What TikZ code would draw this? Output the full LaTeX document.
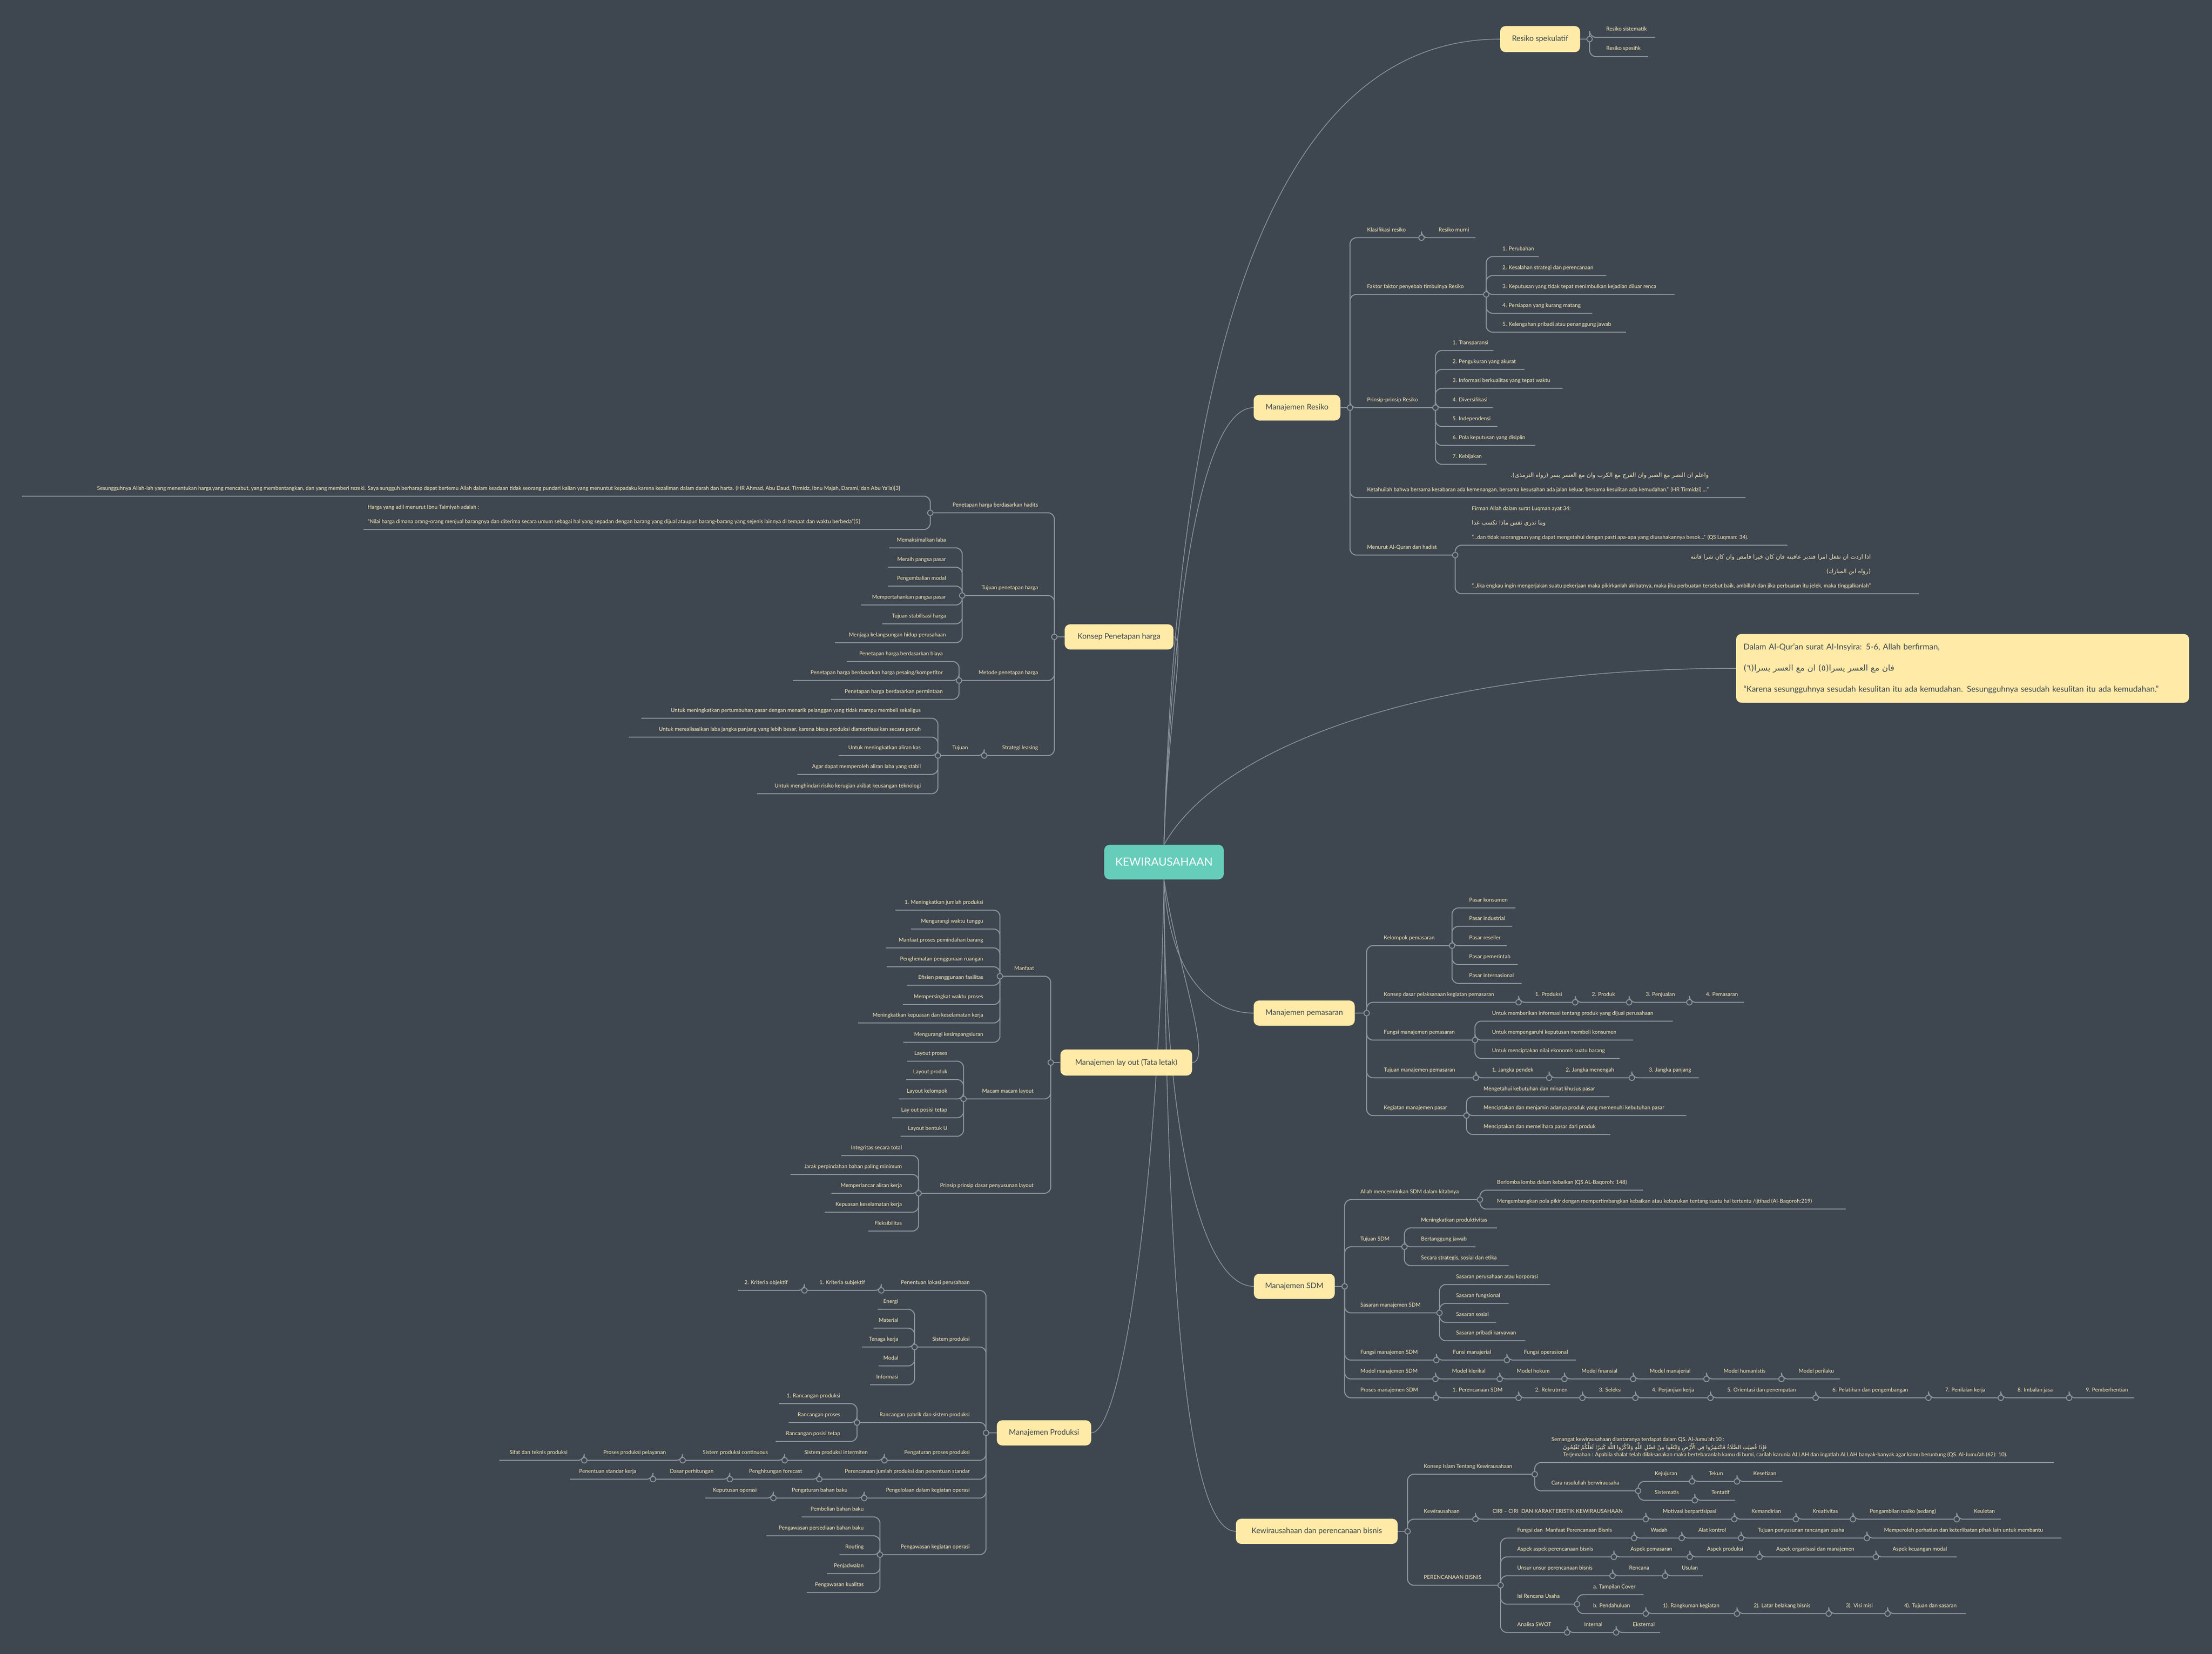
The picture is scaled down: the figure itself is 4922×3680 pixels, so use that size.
\documentclass[tikz,border=0pt]{standalone}
\usepackage{fontspec}
\setmainfont{Lato}
\newfontfamily\ar[Script=Arabic]{DejaVu Sans}
\TeXXeTstate=1
\pgfdeclarelayer{back}\pgfdeclarelayer{bg}\pgfsetlayers{back,bg,main}
\definecolor{bgc}{HTML}{3E4650}
\definecolor{ln}{HTML}{8B939B}
\definecolor{lab}{HTML}{F8EAB6}
\definecolor{bx}{HTML}{FFEAA7}
\definecolor{rootc}{HTML}{66CDBA}
\tikzset{
 lbl/.style={font=\fontsize{12}{14}\selectfont, text=lab, inner sep=0pt},
 lblm/.style={font=\fontsize{12}{32}\selectfont, text=lab, inner sep=0pt},
 dot/.style={circle, draw=ln, fill=bgc, line width=2pt, minimum size=12pt, inner sep=0pt},
 con/.style={draw=ln, line width=2.2pt, rounded corners=14pt},
 mainc/.style={draw=ln, line width=1.6pt},
 box/.style={fill=bx, rounded corners=12pt, text=bgc, font=\fontsize{17}{20}\selectfont, minimum height=56pt, inner sep=0pt},
}
\newcommand\RB[6]{\coordinate (#2e) at (#5,#4);\begin{pgfonlayer}{bg}\draw[con] (#1) |- (#2e);\end{pgfonlayer}\node[lbl,anchor=base west] (#2) at (#3,#4-14) {#6};}
\newcommand\LB[6]{\coordinate (#2e) at (#5,#4);\begin{pgfonlayer}{bg}\draw[con] (#1) |- (#2e);\end{pgfonlayer}\node[lbl,anchor=base east] (#2) at (#3,#4-14) {#6};}
\newcommand\RM[7]{\coordinate (#2e) at (#5,#4);\begin{pgfonlayer}{bg}\draw[con] (#1) |- (#2e);\end{pgfonlayer}\node[lblm,align=#6,anchor=south west] (#2) at (#3,#4-11) {#7};}
\newcommand\C[3]{\node[dot] (#1) at (#2,#3) {};}
\newcommand\AR[1]{{\ar\fontsize{13}{14}\selectfont\beginR #1\endR}}
\begin{document}
\begin{tikzpicture}[x=1pt,y=-1pt]
\begin{pgfonlayer}{back}\fill[bgc] (0,0) rectangle (4922,3680);\end{pgfonlayer}
\useasboundingbox (0,0) rectangle (4922,3680);
% root and main boxes
\node[box, fill=rootc, text=white, font=\fontsize{25}{28}\selectfont, minimum width=266, minimum height=77] (root) at (2590,1918) {KEWIRAUSAHAAN};
\node[box, minimum width=178, minimum height=58] (rs) at (3427,87) {Resiko spekulatif};
\node[box, minimum width=193, minimum height=57] (mr) at (2886,907) {Manajemen Resiko};
\node[box, minimum width=242] (kp) at (2490,1417) {Konsep Penetapan harga};
\node[box, minimum width=293, minimum height=58] (lay) at (2506,2364) {Manajemen lay out (Tata letak)};
\node[box, minimum width=225] (pm) at (2902,2254) {Manajemen pemasaran};
\node[box, minimum width=180] (sdm) at (2880,2862) {Manajemen SDM};
\node[box, minimum width=210] (prod) at (2323,3188) {Manajemen Produksi};
\node[box, minimum width=360] (kw) at (2930,3407) {Kewirausahaan dan perencanaan bisnis};
\node[box, minimum width=1008, minimum height=153, text width=975pt, align=left, font=\fontsize{18}{47}\selectfont] (ins) at (4367,1487) {Dalam Al-Qur’an surat Al-Insyira: 5-6, Allah berfirman,\\ {\ar\fontsize{18}{20}\selectfont\beginR فان مع العسر يسرا(٥) ان مع العسر يسرا(٦)\endR}\\ “Karena sesungguhnya sesudah kesulitan itu ada kemudahan. Sesungguhnya sesudah kesulitan itu ada kemudahan.”};
\begin{pgfonlayer}{bg}
\draw[mainc] (root.north) .. controls (2625,500) and (2950,87) .. (rs.west);
\draw[mainc] (root.north) .. controls (2610,1300) and (2680,907) .. (mr.west);
\draw[mainc] (root.north) .. controls (2720,1650) and (3200,1487) .. (ins.west);
\draw[mainc] (root.north) .. controls (2598,1600) and (2640,1417) .. (kp.east);
\draw[mainc] (root.south) .. controls (2620,2150) and (2700,2364) .. (lay.east);
\draw[mainc] (root.south) .. controls (2600,2150) and (2680,2254) .. (pm.west);
\draw[mainc] (root.south) .. controls (2590,2550) and (2680,2862) .. (sdm.west);
\draw[mainc] (root.south) .. controls (2580,2600) and (2500,3188) .. (prod.east);
\draw[mainc] (root.south) .. controls (2595,2850) and (2640,3407) .. (kw.west);
\end{pgfonlayer}
% ===== Resiko spekulatif
\C{rsc}{3537}{87}\begin{pgfonlayer}{bg}\draw[con] (rs.east) -- (rsc);\end{pgfonlayer}
\RB{rsc}{rs1}{3574}{83}{3683}{Resiko sistematik}
\RB{rsc}{rs2}{3574}{126}{3667}{Resiko spesifik}
% ===== Manajemen Resiko
\C{mrc}{3004}{907}\begin{pgfonlayer}{bg}\draw[con] (mr.east) -- (mrc);\end{pgfonlayer}
\RB{mrc}{k1}{3042}{529}{3163}{Klasifikasi resiko}\C{k1c}{3163}{529}
\RB{k1c}{k11}{3201}{529}{3283}{Resiko murni}
\RB{mrc}{k2}{3042}{655}{3307}{Faktor faktor penyebab timbulnya Resiko}\C{k2c}{3307}{655}
\RB{k2c}{k21}{3343}{571}{3424}{1. Perubahan}
\RB{k2c}{k22}{3343}{613}{3574}{2. Kesalahan strategi dan perencanaan}
\RB{k2c}{k23}{3343}{655}{3726}{3. Keputusan yang tidak tepat menimbulkan kejadian diluar renca}
\RB{k2c}{k24}{3343}{697}{3543}{4. Persiapan yang kurang matang}
\RB{k2c}{k25}{3343}{739}{3618}{5. Kelengahan pribadi atau penanggung jawab}
\RB{mrc}{k3}{3042}{907}{3194}{Prinsip-prinsip Resiko}\C{k3c}{3194}{907}
\RB{k3c}{k31}{3232}{780}{3323}{1. Transparansi}
\RB{k3c}{k32}{3232}{822}{3392}{2. Pengukuran yang akurat}
\RB{k3c}{k33}{3232}{864}{3477}{3. Informasi berkualitas yang tepat waktu}
\RB{k3c}{k34}{3232}{907}{3322}{4. Diversifikasi}
\RB{k3c}{k35}{3232}{949}{3332}{5. Independensi}
\RB{k3c}{k36}{3232}{991}{3416}{6. Pola keputusan yang disiplin}
\RB{k3c}{k37}{3232}{1033}{3308}{7. Kebijakan}
\RM{mrc}{k4}{3042}{1107}{3884}{right}{\AR{واعلم ان النصر مع الصبر وان الفرج مع الكرب وان مع العسر يسر (رواه الترمذى).}\\ Ketahuilah bahwa bersama kesabaran ada kemenangan, bersama kesusahan ada jalan keluar, bersama kesulitan ada kemudahan.” (HR Tirmidzi) …”}
\RB{mrc}{k5}{3042}{1235}{3238}{Menurut Al-Quran dan hadist}\C{k5c}{3238}{1235}
\RM{k5c}{k51}{3275}{1213}{3977}{left}{Firman Allah dalam surat Luqman ayat 34:\\ \AR{وما تدري نفس ماذا تكسب غدا}\\ “...dan tidak seorangpun yang dapat mengetahui dengan pasti apa-apa yang diusahakannya besok...” (QS Luqman: 34).}
\RM{k5c}{k52}{3275}{1321}{4270}{right}{\AR{اذا اردت ان تفعل امرا فتدبر عاقبته فان كان خيرا فامض وان كان شرا فانته}\\ \AR{(رواه ابن المبارك)}\\ “..Jika engkau ingin mengerjakan suatu pekerjaan maka pikirkanlah akibatnya, maka jika perbuatan tersebut baik, ambillah dan jika perbuatan itu jelek, maka tinggalkanlah”}
% ===== Konsep Penetapan harga
\C{kpc}{2346}{1417}\begin{pgfonlayer}{bg}\draw[con] (kp.west) -- (kpc);\end{pgfonlayer}
\LB{kpc}{h1}{2310}{1141}{2070}{Penetapan harga berdasarkan hadits}\C{h1c}{2070}{1141}
\LB{h1c}{h11}{2003}{1104}{49}{Sesungguhnya Allah-lah yang menentukan harga,yang mencabut, yang membentangkan, dan yang memberi rezeki. Saya sungguh berharap dapat bertemu Allah dalam keadaan tidak seorang pundari kalian yang menuntut kepadaku karena kezaliman dalam darah dan harta. (HR Ahmad, Abu Daud, Tirmidz, Ibnu Majah, Darami, dan Abu Ya’la)[3]}
\RM{h1c}{h12}{818}{1178}{809}{left}{Harga yang adil menurut Ibnu Taimiyah adalah :\\ “Nilai harga dimana orang-orang menjual barangnya dan diterima secara umum sebagai hal yang sepadan dengan barang yang dijual ataupun barang-barang yang sejenis lainnya di tempat dan waktu berbeda”[5]}
\LB{kpc}{h2}{2310}{1325}{2141}{Tujuan penetapan harga}\C{h2c}{2141}{1325}
\LB{h2c}{h21}{2105}{1219}{1978}{Memaksimalkan laba}
\LB{h2c}{h22}{2105}{1262}{1976}{Meraih pangsa pasar}
\LB{h2c}{h23}{2105}{1304}{1976}{Pengembalian modal}
\LB{h2c}{h24}{2105}{1346}{1916}{Mempertahankan pangsa pasar}
\LB{h2c}{h25}{2105}{1388}{1963}{Tujuan stabilisasi harga}
\LB{h2c}{h26}{2105}{1430}{1858}{Menjaga kelangsungan hidup perusahaan}
\LB{kpc}{h3}{2310}{1514}{2134}{Metode penetapan harga}\C{h3c}{2134}{1514}
\LB{h3c}{h31}{2098}{1472}{1884}{Penetapan harga berdasarkan biaya}
\LB{h3c}{h32}{2098}{1514}{1764}{Penetapan harga berdasarkan harga pesaing/kompetitor}
\LB{h3c}{h33}{2098}{1556}{1849}{Penetapan harga berdasarkan permintaan}
\LB{kpc}{h4}{2310}{1681}{2190}{Strategi leasing}\C{h4c}{2190}{1681}
\LB{h4c}{h41}{2154}{1681}{2087}{Tujuan}\C{h41c}{2087}{1681}
\LB{h41c}{h411}{2049}{1598}{1427}{Untuk meningkatkan pertumbuhan pasar dengan menarik pelanggan yang tidak mampu membeli sekaligus}
\LB{h41c}{h412}{2049}{1640}{1399}{Untuk merealisasikan laba jangka panjang yang lebih besar, karena biaya produksi diamortisasikan secara penuh}
\LB{h41c}{h413}{2049}{1681}{1866}{Untuk meningkatkan aliran kas}
\LB{h41c}{h414}{2049}{1723}{1774}{Agar dapat memperoleh aliran laba yang stabil}
\LB{h41c}{h415}{2049}{1766}{1684}{Untuk menghindari risiko kerugian akibat keusangan teknologi}
% ===== Layout
\C{layc}{2338}{2364}\begin{pgfonlayer}{bg}\draw[con] (lay.west) -- (layc);\end{pgfonlayer}
\LB{layc}{l1}{2301}{2172}{2225}{Manfaat}\C{l1c}{2225}{2172}
\LB{l1c}{l11}{2188}{2025}{1992}{1. Meningkatkan jumlah produksi}
\LB{l1c}{l12}{2188}{2067}{2027}{Mengurangi waktu tunggu}
\LB{l1c}{l13}{2188}{2109}{1971}{Manfaat proses pemindahan barang}
\LB{l1c}{l14}{2188}{2151}{1973}{Penghematan penggunaan ruangan}
\LB{l1c}{l15}{2188}{2192}{2018}{Efisien penggunaan fasilitas}
\LB{l1c}{l16}{2188}{2235}{2009}{Mempersingkat waktu proses}
\LB{l1c}{l17}{2188}{2276}{1909}{Meningkatkan kepuasan dan keselamatan kerja}
\LB{l1c}{l18}{2188}{2319}{2010}{Mengurangi kesimpangsiuran}
\LB{layc}{l2}{2300}{2445}{2144}{Macam macam layout}\C{l2c}{2144}{2445}
\LB{l2c}{l21}{2108}{2361}{2018}{Layout proses}
\LB{l2c}{l22}{2108}{2402}{2016}{Layout produk}
\LB{l2c}{l23}{2108}{2445}{2000}{Layout kelompok}
\LB{l2c}{l24}{2108}{2487}{1985}{Lay out posisi tetap}
\LB{l2c}{l25}{2108}{2528}{2004}{Layout bentuk U}
\LB{layc}{l3}{2300}{2655}{2044}{Prinsip prinsip dasar penyusunan layout}\C{l3c}{2044}{2655}
\LB{l3c}{l31}{2007}{2571}{1872}{Integritas secara total}
\LB{l3c}{l32}{2007}{2613}{1759}{Jarak perpindahan bahan paling minimum}
\LB{l3c}{l33}{2007}{2655}{1850}{Memperlancar aliran kerja}
\LB{l3c}{l34}{2007}{2697}{1835}{Kepuasan keselamatan kerja}
\LB{l3c}{l35}{2007}{2739}{1932}{Fleksibilitas}
% ===== Pemasaran
\C{pmc}{3041}{2254}\begin{pgfonlayer}{bg}\draw[con] (pm.east) -- (pmc);\end{pgfonlayer}
\RB{pmc}{p1}{3079}{2104}{3231}{Kelompok pemasaran}\C{p1c}{3231}{2104}
\RB{p1c}{p11}{3269}{2020}{3372}{Pasar konsumen}
\RB{p1c}{p12}{3269}{2061}{3365}{Pasar industrial}
\RB{p1c}{p13}{3269}{2104}{3353}{Pasar reseller}
\RB{p1c}{p14}{3269}{2146}{3377}{Pasar pemerintah}
\RB{p1c}{p15}{3269}{2188}{3386}{Pasar internasional}
\RB{pmc}{p2}{3079}{2230}{3379}{Konsep dasar pelaksanaan kegiatan pemasaran}\C{p2c}{3379}{2230}
\RB{p2c}{p21}{3416}{2230}{3505}{1. Produksi}\C{p21c}{3505}{2230}
\RB{p21c}{p22}{3542}{2230}{3625}{2. Produk}\C{p22c}{3625}{2230}
\RB{p22c}{p23}{3662}{2230}{3759}{3. Penjualan}\C{p23c}{3759}{2230}
\RB{p23c}{p24}{3796}{2230}{3881}{4. Pemasaran}
\RB{pmc}{p3}{3079}{2314}{3282}{Fungsi manajemen pemasaran}\C{p3c}{3282}{2314}
\RB{p3c}{p31}{3320}{2272}{3722}{Untuk memberikan informasi tentang produk yang dijual perusahaan}
\RB{p3c}{p32}{3320}{2314}{3634}{Untuk mempengaruhi keputusan membeli konsumen}
\RB{p3c}{p33}{3320}{2355}{3604}{Untuk menciptakan nilai ekonomis suatu barang}
\RB{pmc}{p4}{3079}{2398}{3284}{Tujuan manajemen pemasaran}\C{p4c}{3284}{2398}
\RB{p4c}{p41}{3320}{2398}{3447}{1. Jangka pendek}\C{p41c}{3447}{2398}
\RB{p41c}{p42}{3484}{2398}{3631}{2. Jangka menengah}\C{p42c}{3631}{2398}
\RB{p42c}{p43}{3669}{2398}{3780}{3. Jangka panjang}
\RB{pmc}{p5}{3079}{2482}{3263}{Kegiatan manajemen pasar}\C{p5c}{3263}{2482}
\RB{p5c}{p51}{3301}{2440}{3581}{Mengetahui kebutuhan dan minat khusus pasar}
\RB{p5c}{p52}{3301}{2482}{3752}{Menciptakan dan menjamin adanya produk yang memenuhi kebutuhan pasar}
\RB{p5c}{p53}{3301}{2524}{3583}{Menciptakan dan memelihara pasar dari produk}
% ===== SDM
\C{sdmc}{2992}{2862}\begin{pgfonlayer}{bg}\draw[con] (sdm.east) -- (sdmc);\end{pgfonlayer}
\RB{sdmc}{s1}{3027}{2669}{3293}{Allah mencerminkan SDM dalam kitabnya}\C{s1c}{3293}{2669}
\RB{s1c}{s11}{3331}{2648}{3656}{Berlomba lomba dalam kebaikan (QS AL-Baqoroh: 148)}
\RB{s1c}{s12}{3331}{2690}{4107}{Mengembangkan pola pikir dengan mempertimbangkan kebaikan atau keburukan tentang suatu hal tertentu /ijtihad (Al-Baqoroh:219)}
\RB{sdmc}{s2}{3027}{2774}{3125}{Tujuan SDM}\C{s2c}{3125}{2774}
\RB{s2c}{s21}{3162}{2732}{3331}{Meningkatkan produktivitas}
\RB{s2c}{s22}{3162}{2774}{3283}{Bertanggung jawab}
\RB{s2c}{s23}{3162}{2816}{3357}{Secara strategis, sosial dan etika}
\RB{sdmc}{s3}{3027}{2921}{3203}{Sasaran manajemen SDM}\C{s3c}{3203}{2921}
\RB{s3c}{s31}{3240}{2858}{3449}{Sasaran perusahaan atau korporasi}
\RB{s3c}{s32}{3240}{2900}{3357}{Sasaran fungsional}
\RB{s3c}{s33}{3240}{2942}{3329}{Sasaran sosial}
\RB{s3c}{s34}{3240}{2983}{3394}{Sasaran pribadi karyawan}
\RB{sdmc}{s4}{3027}{3026}{3196}{Fungsi manajemen SDM}\C{s4c}{3196}{3026}
\RB{s4c}{s41}{3233}{3026}{3353}{Funsi manajerial}\C{s41c}{3353}{3026}
\RB{s41c}{s42}{3391}{3026}{3507}{Fungsi operasional}
\RB{sdmc}{s5}{3027}{3068}{3194}{Model manajemen SDM}\C{s5c}{3194}{3068}
\RB{s5c}{s51}{3231}{3068}{3337}{Model klerikal}\C{s51c}{3337}{3068}
\RB{s51c}{s52}{3375}{3068}{3481}{Model hokum}\C{s52c}{3481}{3068}
\RB{s52c}{s53}{3519}{3068}{3634}{Model finansial}\C{s53c}{3634}{3068}
\RB{s53c}{s54}{3671}{3068}{3797}{Model manajerial}\C{s54c}{3797}{3068}
\RB{s54c}{s55}{3835}{3068}{3964}{Model humanistis}\C{s55c}{3964}{3068}
\RB{s55c}{s56}{4002}{3068}{4094}{Model perilaku}
\RB{sdmc}{s6}{3027}{3110}{3195}{Proses manajemen SDM}\C{s6c}{3195}{3110}
\RB{s6c}{s61}{3232}{3110}{3379}{1. Perencanaan SDM}\C{s61c}{3379}{3110}
\RB{s61c}{s62}{3416}{3110}{3521}{2. Rekrutmen}\C{s62c}{3521}{3110}
\RB{s62c}{s63}{3558}{3110}{3639}{3. Seleksi}\C{s63c}{3639}{3110}
\RB{s63c}{s64}{3676}{3110}{3806}{4. Perjanjian kerja}\C{s64c}{3806}{3110}
\RB{s64c}{s65}{3843}{3110}{4040}{5. Orientasi dan penempatan}\C{s65c}{4040}{3110}
\RB{s65c}{s66}{4077}{3110}{4291}{6. Pelatihan dan pengembangan}\C{s66c}{4291}{3110}
\RB{s66c}{s67}{4328}{3110}{4452}{7. Penilaian kerja}\C{s67c}{4452}{3110}
\RB{s67c}{s68}{4489}{3110}{4604}{8. Imbalan jasa}\C{s68c}{4604}{3110}
\RB{s68c}{s69}{4641}{3110}{4749}{9. Pemberhentian}
% ===== Produksi
\C{prodc}{2194}{3188}\begin{pgfonlayer}{bg}\draw[con] (prod.west) -- (prodc);\end{pgfonlayer}
\LB{prodc}{d1}{2158}{2871}{1961}{Penentuan lokasi perusahaan}\C{d1c}{1961}{2871}
\LB{d1c}{d11}{1925}{2871}{1790}{1. Kriteria subjektif}\C{d11c}{1790}{2871}
\LB{d11c}{d12}{1753}{2871}{1642}{2. Kriteria objektif}
\LB{prodc}{d2}{2158}{2997}{2035}{Sistem produksi}\C{d2c}{2035}{2997}
\LB{d2c}{d21}{1999}{2913}{1953}{Energi}
\LB{d2c}{d22}{1999}{2955}{1944}{Material}
\LB{d2c}{d23}{1999}{2997}{1918}{Tenaga kerja}
\LB{d2c}{d24}{1999}{3039}{1955}{Modal}
\LB{d2c}{d25}{1999}{3081}{1936}{Informasi}
\LB{prodc}{d3}{2158}{3165}{1907}{Rancangan pabrik dan sistem produksi}\C{d3c}{1907}{3165}
\LB{d3c}{d31}{1870}{3123}{1733}{1. Rancangan produksi}
\LB{d3c}{d32}{1870}{3165}{1755}{Rancangan proses}
\LB{d3c}{d33}{1870}{3207}{1726}{Rancangan posisi tetap}
\LB{prodc}{d4}{2158}{3249}{1968}{Pengaturan proses produksi}\C{d4c}{1968}{3249}
\LB{d4c}{d41}{1931}{3249}{1746}{Sistem produksi intermiten}\C{d41c}{1746}{3249}
\LB{d41c}{d42}{1709}{3249}{1519}{Sistem produksi continuous}\C{d42c}{1519}{3249}
\LB{d42c}{d43}{1482}{3249}{1300}{Proses produksi pelayanan}\C{d43c}{1300}{3249}
\LB{d43c}{d44}{1263}{3249}{1111}{Sifat dan teknis produksi}
\LB{prodc}{d5}{2158}{3291}{1823}{Perencanaan jumlah produksi dan penentuan standar}\C{d5c}{1823}{3291}
\LB{d5c}{d51}{1785}{3291}{1624}{Penghitungan forecast}\C{d51c}{1624}{3291}
\LB{d51c}{d52}{1588}{3291}{1453}{Dasar perhitungan}\C{d52c}{1453}{3291}
\LB{d52c}{d53}{1416}{3291}{1268}{Penentuan standar kerja}
\LB{prodc}{d6}{2158}{3333}{1923}{Pengelolaan dalam kegiatan operasi}\C{d6c}{1923}{3333}
\LB{d6c}{d61}{1886}{3333}{1721}{Pengaturan bahan baku}\C{d61c}{1721}{3333}
\LB{d61c}{d62}{1684}{3333}{1569}{Keputusan operasi}
\LB{prodc}{d7}{2158}{3459}{1958}{Pengawasan kegiatan operasi}\C{d7c}{1958}{3459}
\LB{d7c}{d71}{1922}{3375}{1784}{Pembelian bahan baku}
\LB{d7c}{d72}{1922}{3417}{1705}{Pengawasan persediaan bahan baku}
\LB{d7c}{d73}{1922}{3459}{1868}{Routing}
\LB{d7c}{d74}{1922}{3501}{1840}{Penjadwalan}
\LB{d7c}{d75}{1922}{3543}{1795}{Pengawasan kualitas}
% ===== Kewirausahaan
\C{kwc}{3132}{3407}\begin{pgfonlayer}{bg}\draw[con] (kw.east) -- (kwc);\end{pgfonlayer}
\RB{kwc}{w1}{3168}{3280}{3415}{Konsep Islam Tentang Kewirausahaan}\C{w1c}{3415}{3280}
\coordinate (w11e) at (4570,3254);
\begin{pgfonlayer}{bg}\draw[con] (w1c) |- (w11e);\end{pgfonlayer}
\node[lbl, align=left, anchor=south west, font=\fontsize{12}{16.5}\selectfont] (w11) at (3452,3243) {Semangat kewirausahaan diantaranya terdapat dalam QS. Al-Jumu’ah:10 :\\ \hspace*{26pt}{\ar\fontsize{12}{14}\selectfont\beginR فَإِذَا قُضِيَتِ الصَّلَاةُ فَانْتَشِرُوا فِي الْأَرْضِ وَابْتَغُوا مِنْ فَضْلِ اللَّهِ وَاذْكُرُوا اللَّهَ كَثِيرًا لَعَلَّكُمْ تُفْلِحُونَ\endR}\\ \hspace*{26pt}Terjemahan : Apabila shalat telah dilaksanakan maka bertebaranlah kamu di bumi, carilah karunia ALLAH dan ingatlah ALLAH banyak-banyak agar kamu beruntung (QS. Al-Jumu’ah (62): 10).};
\RB{w1c}{w12}{3452}{3317}{3645}{Cara rasulullah berwirausaha}\C{w12c}{3645}{3317}
\RB{w12c}{w121}{3682}{3296}{3765}{Kejujuran}\C{w121c}{3765}{3296}
\RB{w121c}{w122}{3802}{3296}{3865}{Tekun}\C{w122c}{3865}{3296}
\RB{w122c}{w123}{3901}{3296}{3966}{Kesetiaan}
\RB{w12c}{w124}{3682}{3338}{3771}{Sistematis}\C{w124c}{3771}{3338}
\RB{w124c}{w125}{3808}{3338}{3861}{Tentatif}
\RB{kwc}{w2}{3168}{3380}{3283}{Kewirausahaan}\C{w2c}{3283}{3380}
\RB{w2c}{w21}{3321}{3380}{3662}{CIRI – CIRI\ \ DAN KARAKTERISTIK KEWIRAUSAHAAN}\C{w21c}{3662}{3380}
\RB{w21c}{w22}{3700}{3380}{3859}{Motivasi berpartisipasi}\C{w22c}{3859}{3380}
\RB{w22c}{w23}{3897}{3380}{3996}{Kemandirian}\C{w23c}{3996}{3380}
\RB{w23c}{w24}{4033}{3380}{4123}{Kreativitas}\C{w24c}{4123}{3380}
\RB{w24c}{w25}{4160}{3380}{4354}{Pengambilan resiko (sedang)}\C{w25c}{4354}{3380}
\RB{w25c}{w26}{4392}{3380}{4452}{Keuletan}
\RB{kwc}{w3}{3168}{3527}{3339}{PERENCANAAN BISNIS}\C{w3c}{3339}{3527}
\RB{w3c}{w31}{3376}{3422}{3636}{Fungsi dan\ \ Manfaat Perencanaan Bisnis}\C{w31c}{3636}{3422}
\RB{w31c}{w311}{3673}{3422}{3742}{Wadah}\C{w311c}{3742}{3422}
\RB{w311c}{w312}{3779}{3422}{3874}{Alat kontrol}\C{w312c}{3874}{3422}
\RB{w312c}{w313}{3911}{3422}{4154}{Tujuan penyusunan rancangan usaha}\C{w313c}{4154}{3422}
\RB{w313c}{w314}{4192}{3422}{4587}{Memperoleh perhatian dan keterlibatan pihak lain untuk membantu}
\RB{w3c}{w32}{3376}{3464}{3591}{Aspek aspek perencanaan bisnis}\C{w32c}{3591}{3464}
\RB{w32c}{w321}{3628}{3464}{3760}{Aspek pemasaran}\C{w321c}{3760}{3464}
\RB{w321c}{w322}{3798}{3464}{3915}{Aspek produksi}\C{w322c}{3915}{3464}
\RB{w322c}{w323}{3952}{3464}{4174}{Aspek organisasi dan manajemen}\C{w323c}{4174}{3464}
\RB{w323c}{w324}{4211}{3464}{4354}{Aspek keuangan modal}
\RB{w3c}{w33}{3376}{3506}{3588}{Unsur unsur perencanaan bisnis}\C{w33c}{3588}{3506}
\RB{w33c}{w331}{3625}{3506}{3705}{Rencana}\C{w331c}{3705}{3506}
\RB{w331c}{w332}{3742}{3506}{3789}{Usulan}
\RB{w3c}{w34}{3376}{3569}{3509}{Isi Rencana Usaha}\C{w34c}{3509}{3569}
\RB{w34c}{w341}{3545}{3548}{3657}{a. Tampilan Cover}
\RB{w34c}{w342}{3545}{3590}{3662}{b. Pendahuluan}\C{w342c}{3662}{3590}
\RB{w342c}{w343}{3700}{3590}{3865}{1). Rangkuman kegiatan}\C{w343c}{3865}{3590}
\RB{w343c}{w344}{3902}{3590}{4069}{2). Latar belakang bisnis}\C{w344c}{4069}{3590}
\RB{w344c}{w345}{4107}{3590}{4200}{3). Visi misi}\C{w345c}{4200}{3590}
\RB{w345c}{w346}{4237}{3590}{4374}{4). Tujuan dan sasaran}
\RB{w3c}{w35}{3376}{3632}{3487}{Analisa SWOT}\C{w35c}{3487}{3632}
\RB{w35c}{w351}{3525}{3632}{3596}{Internal}\C{w351c}{3596}{3632}
\RB{w351c}{w352}{3633}{3632}{3694}{Eksternal}
\end{tikzpicture}
\end{document}
